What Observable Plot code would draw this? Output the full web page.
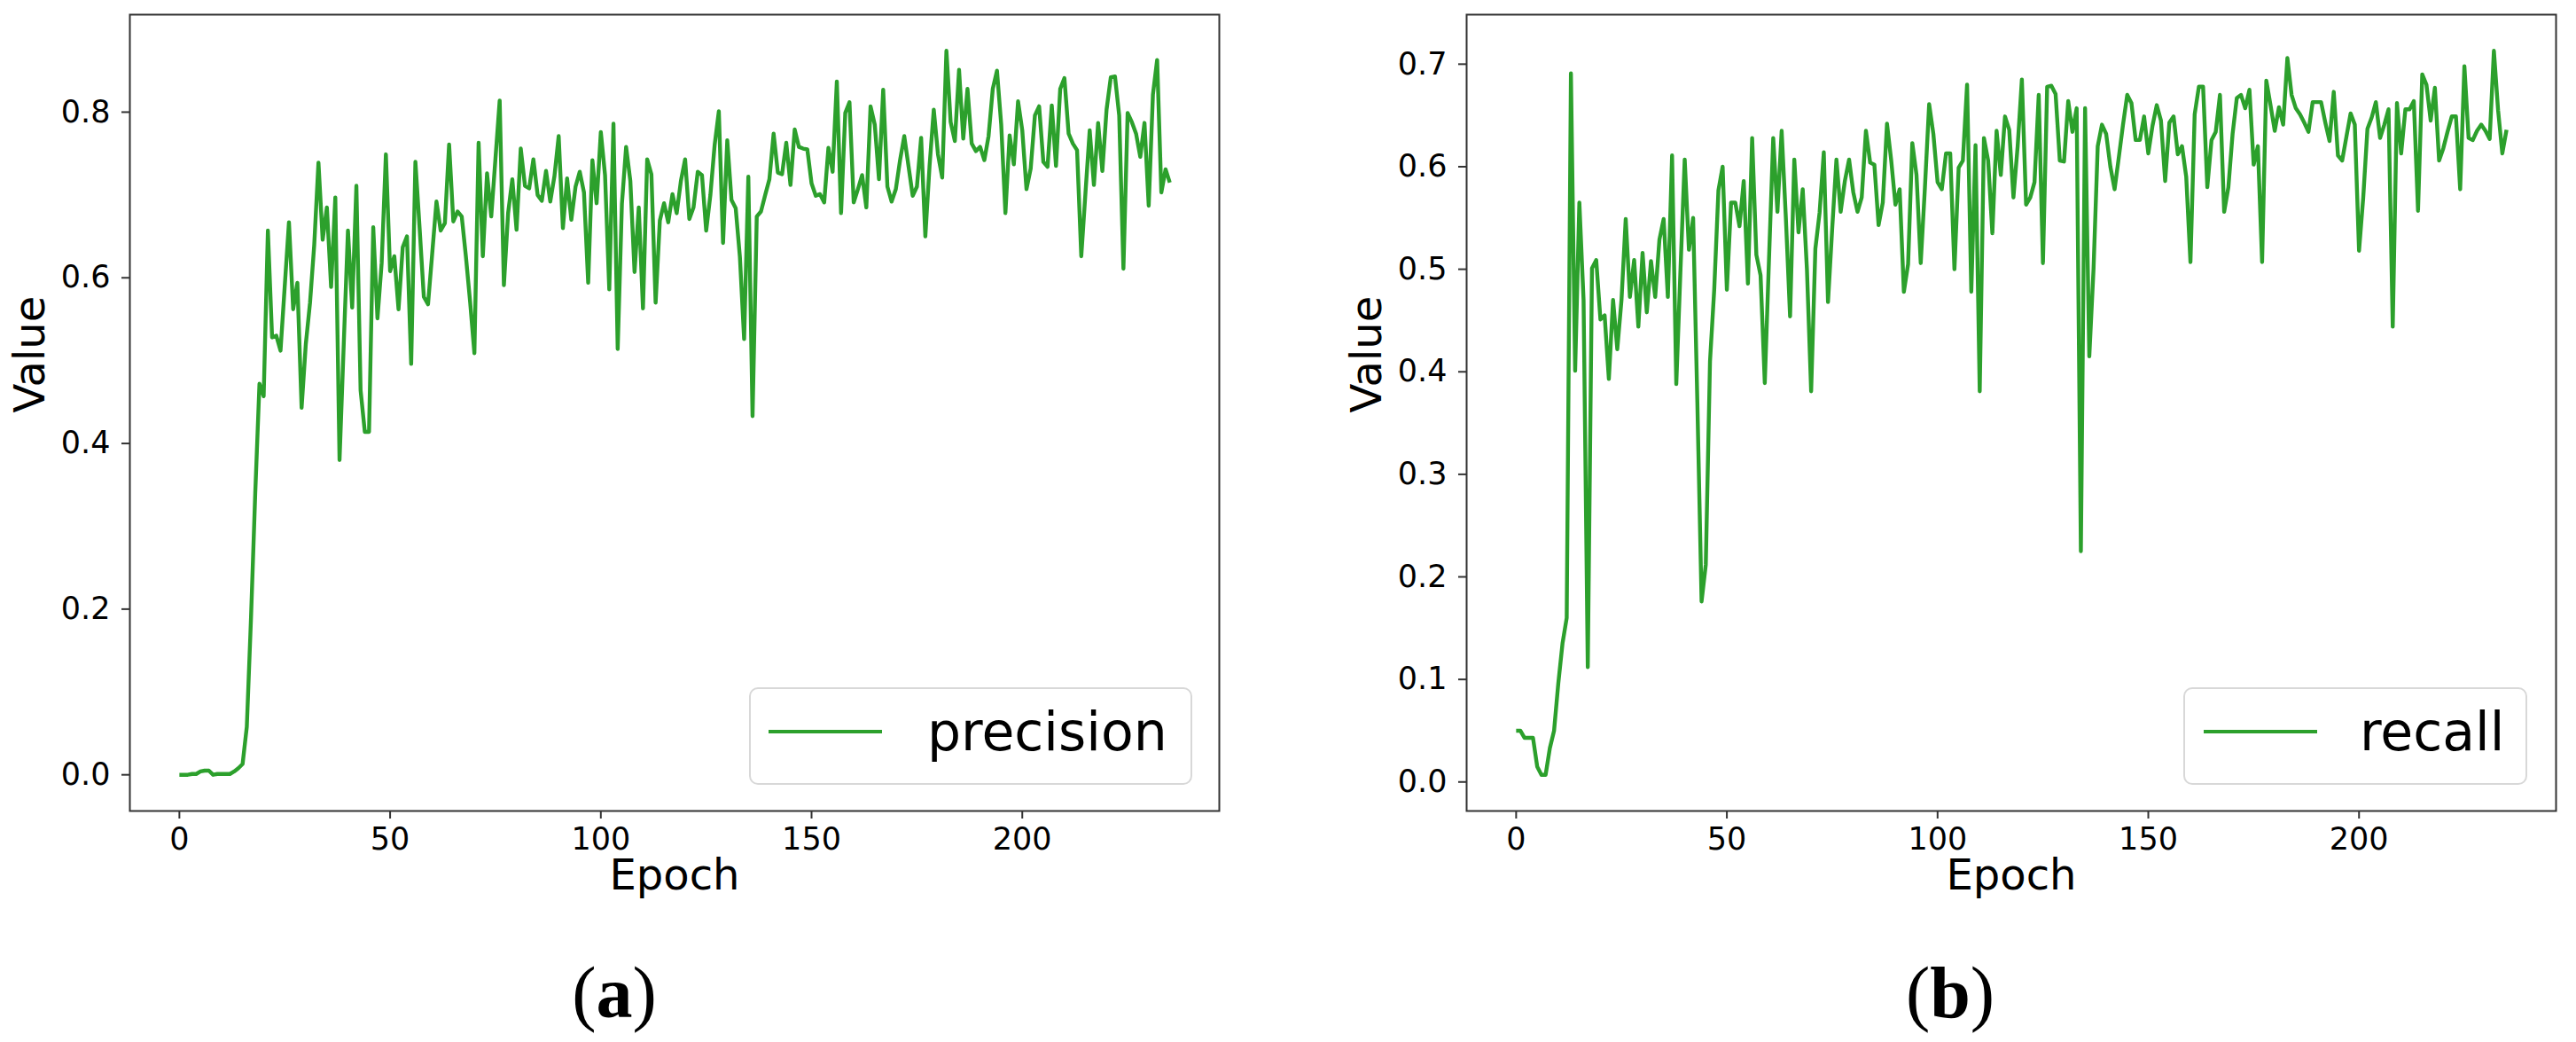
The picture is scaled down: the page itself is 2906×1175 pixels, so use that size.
<!DOCTYPE html>
<html>
<head>
<meta charset="utf-8">
<script src="https://cdn.jsdelivr.net/npm/d3@7"></script>
<script src="https://cdn.jsdelivr.net/npm/@observablehq/plot@0.6"></script>
<style>
  html, body { margin: 0; padding: 0; background: #fff; }
  #wrap { position: relative; width: 2906px; height: 1175px; overflow: hidden; background: #fff; }
  .panel { position: absolute; top: 0; width: 1453px; }
  .legend { position: absolute; box-sizing: border-box; border: 2px solid #d8d8d8; border-radius: 10px; background: rgba(255,255,255,0.8); }
  .legend .swatch { position: absolute; height: 4px; background: #2ca02c; }
  .legend .lab { position: absolute; font-family: "DejaVu Sans", sans-serif; font-size: 60px; line-height: 60px; color: #000; white-space: nowrap; }
  .caption { position: absolute; font-family: "Liberation Serif", "Times New Roman", serif; font-size: 82px; line-height: 82px; color: #000; transform: translateX(-50%); white-space: nowrap; }
  .caption b { font-weight: bold; }
</style>
</head>
<body>
<div id="wrap"></div>
<script>
// ---- data ----
const xTicks = [0, 50, 100, 150, 200];
const precisionTicks = [0.0, 0.2, 0.4, 0.6, 0.8];
const recallTicks = [0.0, 0.1, 0.2, 0.3, 0.4, 0.5, 0.6, 0.7];

const precision = [
  0.000,0.000,0.000,0.001,0.001,0.004,0.005,0.005,0.000,0.001,
  0.001,0.001,0.001,0.004,0.008,0.013,0.058,0.190,0.340,0.472,
  0.457,0.657,0.528,0.530,0.512,0.590,0.667,0.562,0.594,0.443,
  0.520,0.570,0.640,0.739,0.646,0.685,0.589,0.697,0.380,0.520,
  0.657,0.564,0.711,0.464,0.414,0.414,0.661,0.551,0.618,0.749,
  0.608,0.626,0.562,0.637,0.650,0.496,0.740,0.660,0.577,0.568,
  0.630,0.692,0.657,0.666,0.761,0.668,0.680,0.674,0.625,0.570,
  0.509,0.763,0.626,0.726,0.674,0.744,0.814,0.591,0.678,0.719,
  0.658,0.756,0.711,0.708,0.743,0.700,0.693,0.729,0.692,0.723,
  0.771,0.660,0.720,0.670,0.710,0.728,0.703,0.594,0.742,0.690,
  0.776,0.724,0.586,0.786,0.514,0.689,0.758,0.717,0.607,0.685,
  0.563,0.743,0.725,0.570,0.669,0.690,0.667,0.701,0.678,0.717,
  0.743,0.671,0.685,0.728,0.724,0.657,0.700,0.760,0.801,0.642,
  0.766,0.694,0.684,0.625,0.526,0.722,0.433,0.674,0.680,0.700,
  0.719,0.774,0.727,0.725,0.763,0.712,0.779,0.758,0.756,0.755,
  0.714,0.699,0.701,0.691,0.757,0.728,0.837,0.678,0.799,0.812,
  0.691,0.707,0.724,0.685,0.807,0.785,0.719,0.827,0.710,0.692,
  0.707,0.742,0.771,0.735,0.699,0.710,0.769,0.650,0.735,0.803,
  0.749,0.721,0.874,0.788,0.765,0.851,0.768,0.828,0.762,0.753,
  0.758,0.742,0.771,0.828,0.850,0.785,0.678,0.772,0.737,0.813,
  0.778,0.707,0.732,0.796,0.807,0.740,0.734,0.808,0.735,0.828,
  0.841,0.774,0.762,0.754,0.626,0.703,0.778,0.712,0.787,0.729,
  0.803,0.842,0.843,0.796,0.611,0.799,0.788,0.774,0.746,0.787,
  0.687,0.821,0.863,0.703,0.731,0.715
];

const recall = [
  0.050,0.050,0.043,0.043,0.043,0.015,0.007,0.007,0.033,0.050,
  0.096,0.135,0.160,0.691,0.401,0.565,0.470,0.112,0.501,0.509,
  0.451,0.455,0.393,0.470,0.422,0.470,0.549,0.473,0.509,0.444,
  0.516,0.458,0.508,0.473,0.529,0.549,0.473,0.611,0.388,0.500,
  0.607,0.519,0.550,0.370,0.176,0.212,0.410,0.480,0.577,0.600,
  0.480,0.565,0.565,0.542,0.586,0.486,0.628,0.514,0.494,0.389,
  0.510,0.628,0.556,0.635,0.550,0.454,0.607,0.536,0.578,0.500,
  0.381,0.520,0.555,0.614,0.468,0.540,0.607,0.556,0.586,0.607,
  0.575,0.556,0.570,0.635,0.604,0.602,0.543,0.565,0.642,0.606,
  0.563,0.578,0.478,0.505,0.623,0.592,0.506,0.580,0.661,0.632,
  0.585,0.578,0.613,0.613,0.500,0.599,0.606,0.680,0.478,0.621,
  0.381,0.628,0.606,0.535,0.635,0.592,0.649,0.636,0.570,0.620,
  0.685,0.563,0.570,0.585,0.670,0.506,0.678,0.679,0.671,0.606,
  0.605,0.664,0.634,0.657,0.225,0.657,0.415,0.500,0.620,0.641,
  0.632,0.600,0.578,0.609,0.641,0.670,0.662,0.626,0.626,0.649,
  0.613,0.640,0.660,0.645,0.586,0.643,0.649,0.612,0.620,0.590,
  0.507,0.651,0.678,0.678,0.580,0.626,0.634,0.670,0.556,0.580,
  0.632,0.667,0.670,0.657,0.675,0.602,0.620,0.507,0.684,0.660,
  0.635,0.658,0.641,0.706,0.670,0.657,0.651,0.643,0.634,0.663,
  0.663,0.663,0.643,0.625,0.673,0.611,0.606,0.629,0.652,0.641,
  0.518,0.570,0.637,0.648,0.663,0.628,0.641,0.656,0.444,0.662,
  0.613,0.656,0.656,0.664,0.557,0.690,0.680,0.645,0.677,0.606,
  0.618,0.634,0.649,0.649,0.578,0.698,0.628,0.626,0.635,0.641,
  0.635,0.627,0.713,0.655,0.613,0.636
];

const seriesNames = ["precision", "recall"];
const captions = ["a", "b"];
const green = "#2ca02c";

// matplotlib-style 5% autoscale margins
function padded(ext) {
  const span = ext[1] - ext[0];
  return [ext[0] - 0.05 * span, ext[1] + 0.05 * span];
}

function makeChart(values, yTicks, marginLeft, marginRight) {
  const rows = values.map((v, i) => ({epoch: i, value: v}));
  return Plot.plot({
    width: 1453,
    height: 1050,
    marginLeft,
    marginRight,
    marginTop: 16,
    marginBottom: 136,
    style: {fontFamily: "DejaVu Sans, sans-serif", background: "#fff", color: "#000", overflow: "visible"},
    x: {domain: padded(d3.extent(rows, d => d.epoch))},
    y: {domain: padded(d3.extent(rows, d => d.value))},
    marks: [
      Plot.line(rows, {x: "epoch", y: "value", stroke: green, strokeWidth: 4.4, strokeLinejoin: "round", strokeLinecap: "butt"}),
      Plot.frame({stroke: "#333", strokeWidth: 2}),
      Plot.axisX({ticks: xTicks, tickSize: 9, tickPadding: 10, fontSize: 35, label: null, tickFormat: d => String(d), stroke: "#333", strokeWidth: 2, color: "#000"}),
      Plot.axisY({ticks: yTicks, tickSize: 9, tickPadding: 13, fontSize: 35, label: null, tickFormat: d3.format(".1f"), stroke: "#333", strokeWidth: 2, color: "#000"}),
      Plot.text(["Epoch"], {text: d => d, frameAnchor: "bottom", dy: 88, fontSize: 48, fill: "#000"}),
      Plot.text(["Value"], {text: d => d, frameAnchor: "left", dx: -112, rotate: -90, fontSize: 48, fill: "#000"})
    ]
  });
}

const wrap = document.getElementById("wrap");

const panels = [
  {values: precision, ticks: precisionTicks, left: 0, ml: 146, mr: 78,
   legend: {left: 845, top: 775, width: 500, height: 110, lineLeft: 22, textLeft: 201},
   cap: {x: 693}},
  {values: recall, ticks: recallTicks, left: 1453, ml: 201, mr: 23,
   legend: {left: 2463, top: 775, width: 388, height: 110, lineLeft: 23, textLeft: 199},
   cap: {x: 2200}}
];

panels.forEach((p, k) => {
  const div = document.createElement("div");
  div.className = "panel";
  div.style.left = p.left + "px";
  div.appendChild(makeChart(p.values, p.ticks, p.ml, p.mr));
  wrap.appendChild(div);

  const lg = document.createElement("div");
  lg.className = "legend";
  Object.assign(lg.style, {left: p.legend.left + "px", top: p.legend.top + "px", width: p.legend.width + "px", height: p.legend.height + "px"});
  const sw = document.createElement("div");
  sw.className = "swatch";
  Object.assign(sw.style, {left: (p.legend.lineLeft - 2) + "px", top: "46px", width: "128px"});
  const lab = document.createElement("div");
  lab.className = "lab";
  Object.assign(lab.style, {left: (p.legend.textLeft - 2) + "px", top: "18px"});
  lab.textContent = seriesNames[k];
  lg.appendChild(sw);
  lg.appendChild(lab);
  wrap.appendChild(lg);

  const cap = document.createElement("div");
  cap.className = "caption";
  Object.assign(cap.style, {left: p.cap.x + "px", top: "1079px"});
  cap.innerHTML = "(<b>" + captions[k] + "</b>)";
  wrap.appendChild(cap);
});
</script>
</body>
</html>
